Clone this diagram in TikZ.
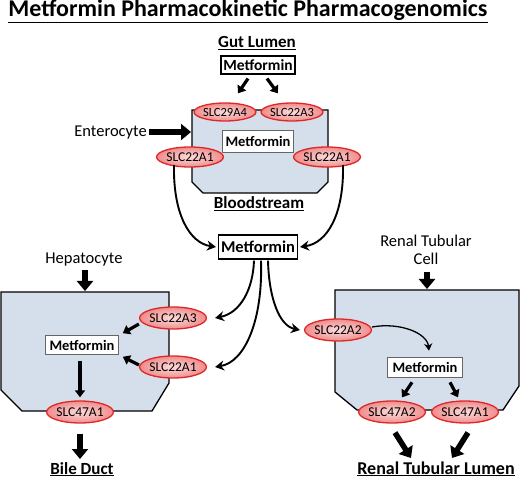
\documentclass[tikz,border=0pt]{standalone}
\usepackage{fontspec}
\setmainfont{Carlito}
\usetikzlibrary{arrows.meta,shapes.geometric,calc}
\definecolor{cellfill}{RGB}{213,223,235}
\definecolor{ovalborder}{RGB}{222,40,40}
\definecolor{ovalin}{RGB}{252,220,220}
\definecolor{ovalout}{RGB}{240,140,140}
\tikzset{
  cell/.style={draw=black, line width=1.3pt, fill=cellfill, line join=miter},
  trans/.style={ellipse, draw=ovalborder, line width=1.3pt, inner color=ovalin, outer color=ovalout,
    minimum width=54pt, minimum height=22pt, inner sep=0pt, font=\fontsize{13.5}{14}\selectfont},
  metbox/.style={draw=black, line width=1.1pt, fill=white, font=\bfseries\fontsize{15.5}{16}\selectfont,
    minimum width=74pt, minimum height=18pt, inner sep=0pt},
  metin/.style={draw=black!60, line width=0.6pt, fill=white, font=\bfseries\fontsize{14.5}{15}\selectfont,
    minimum width=72pt, minimum height=20pt, inner sep=0pt},
  ttl/.style={font=\bfseries\fontsize{24}{26}\selectfont, inner sep=0pt},
  lbl/.style={font=\bfseries\fontsize{17}{19}\selectfont, inner sep=0pt},
  plainlbl/.style={font=\fontsize{16.5}{19}\selectfont, inner sep=0pt},
  bigarrow/.style={line width=5.5pt, -{Triangle[length=10pt,width=16pt]}},
  medarrow/.style={line width=3.2pt, -{Triangle[length=7pt,width=10pt]}},
  curvearrow/.style={line width=1.9pt, -{Stealth[length=9pt,width=10pt,inset=3pt]}},
  thinarrow/.style={line width=1.3pt, -{Stealth[length=7pt,width=8pt,inset=2pt]}},
}
\begin{document}
\begin{tikzpicture}[x=1pt,y=-1pt]
\useasboundingbox (0,0) rectangle (520,481);

% title
\node[ttl, anchor=base] (title) at (248,17) {\underline{Metformin Pharmacokinetic Pharmacogenomics}};

% cells
\draw[cell] (192,110) -- (328,110) -- (328,182) -- (317,193) -- (203,193) -- (192,182) -- cycle;
\draw[cell] (1,292) -- (169,292) -- (169,383) -- (152,411) -- (22,411) -- (1,390) -- cycle;
\draw[cell] (335,290) -- (519,290) -- (519,386) -- (503,410) -- (357,410) -- (335,392) -- cycle;

\coordinate (entcell) at (191,132);
\coordinate (heptop) at (85,291);
\coordinate (rentop) at (427,289);
\coordinate (bileend) at (80,459);
\coordinate (lumenL) at (411,458);
\coordinate (lumenR) at (452,458);

% labels
\node[lbl, anchor=base] (gut) at (257,48) {\underline{Gut Lumen}};
\node[lbl, anchor=base] (blood) at (259,209) {\underline{Bloodstream}};
\node[plainlbl, anchor=base east] (entlbl) at (147,137) {Enterocyte};
\node[plainlbl, anchor=base] (heplbl) at (84,264) {Hepatocyte};
\node[plainlbl, anchor=base] (renlbl1) at (426,247) {Renal Tubular};
\node[plainlbl, anchor=base] (renlbl) at (426,265) {Cell};
\node[lbl, anchor=base] (bile) at (82,474) {\underline{Bile Duct}};
\node[lbl, anchor=base, font=\bfseries\fontsize{18}{19}\selectfont] (lumen) at (436,474) {\underline{Renal Tubular Lumen}};

% metformin boxes
\node[metbox] (m1) at (258,65) {Metformin};
\node[metin, minimum width=71pt, minimum height=22pt] (ment) at (258,141) {Metformin};
\node[metbox, minimum width=79pt, minimum height=24pt, font=\bfseries\fontsize{16.5}{17}\selectfont] (m2) at (258,247) {Metformin};
\node[metin, minimum width=73pt, minimum height=19pt] (mhep) at (82,345) {Metformin};
\node[metin, minimum width=75pt, minimum height=20pt] (mren) at (425,367) {Metformin};

% transporters
\node[trans, minimum width=48pt, minimum height=18pt, font=\fontsize{12.5}{13}\selectfont] (gA) at (225,112) {SLC29A4};
\node[trans, minimum width=48pt, minimum height=18pt, font=\fontsize{12.5}{13}\selectfont] (gB) at (292,112) {SLC22A3};
\node[trans, minimum width=52pt, minimum height=20pt] (gC) at (190,157) {SLC22A1};
\node[trans, minimum width=52pt, minimum height=20pt] (gD) at (327,157) {SLC22A1};
\node[trans, minimum width=58pt] (hA) at (173,318) {SLC22A3};
\node[trans, minimum width=58pt] (hB) at (173,367) {SLC22A1};
\node[trans, minimum width=60pt] (hC) at (80,412) {SLC47A1};
\node[trans, minimum width=60pt] (rA) at (338,330) {SLC22A2};
\node[trans, minimum width=57pt] (rB) at (392,412) {SLC47A2};
\node[trans, minimum width=60pt] (rC) at (465,412) {SLC47A1};

% big arrows
\draw[bigarrow] ($(entlbl.base east)+(2,-5)$) -- (entcell);
\draw[bigarrow] ($(heplbl.base)+(1,6)$) -- (heptop);
\draw[bigarrow] ($(renlbl.base)+(1,7)$) -- (rentop);
\draw[bigarrow] ($(hC.south)+(0,10)$) -- (bileend);
\draw[bigarrow] ($(rB.south)+(3,9)$) -- (lumenL);
\draw[bigarrow] ($(rC.south)+(3,9)$) -- (lumenR);

% medium arrows
\draw[medarrow] ($(m1.south)+(-10,4)$) -- ($(gA.north)+(13,-9)$);
\draw[medarrow] ($(m1.south)+(9,4)$) -- ($(gB.north)+(-14,-9)$);
\draw[medarrow] ($(hA.west)+(0,6)$) -- ($(mhep.north east)+(4,-2)$);
\draw[medarrow] ($(hB.west)+(0,-2)$) -- ($(mhep.south east)+(4,2)$);
\draw[medarrow] ($(mhep.south)+(-2,6)$) -- ($(hC.north)+(0,-3)$);
\draw[medarrow] ($(mren.south)+(-13,5)$) -- ($(rB.north)+(10,-3)$);
\draw[medarrow] ($(mren.south)+(25,5)$) -- ($(rC.north)+(-7,-3)$);

% curved arrows
\draw[curvearrow] ($(gC.center)+(-16,8)$) .. controls (173,215) and (190,243) .. ($(m2.west)+(-2,0)$);
\draw[curvearrow] ($(gD.center)+(16,8)$) .. controls (344,215) and (327,243) .. ($(m2.east)+(2,0)$);
\draw[curvearrow] ($(m2.south)+(-4,1)$) .. controls (253,290) and (240,313) .. ($(hA.east)+(8,0)$);
\draw[curvearrow] ($(m2.south)+(3,1)$) .. controls (263,320) and (245,362) .. ($(hB.east)+(8,0)$);
\draw[curvearrow] ($(m2.south)+(10,1)$) .. controls (269,300) and (280,326) .. ($(rA.west)+(-4,0)$);
\draw[thinarrow] ($(rA.east)+(0,-3)$) .. controls (400,322) and (427,333) .. ($(mren.north)+(4,-6)$);

\end{tikzpicture}
\end{document}
